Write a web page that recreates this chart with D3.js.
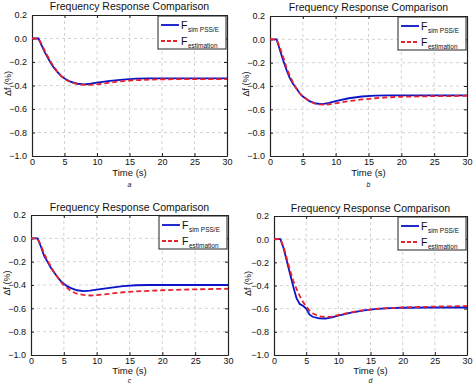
<!DOCTYPE html>
<html><head><meta charset="utf-8">
<script src="https://cdn.jsdelivr.net/npm/d3@7"></script>
<style>
body{margin:0;background:#fff;}
svg{display:block;font-family:"Liberation Sans",Arial,Helvetica,sans-serif;}
</style></head>
<body>
<svg id="c" width="474" height="384"></svg>
<script>
// ---- data ----
const time = [0, 1, 1.5, 2, 2.5, 3, 3.5, 4, 4.5, 5, 5.5, 6, 7, 8, 9, 10, 12, 14, 16, 18, 20, 25, 30];
const xTicks = [0, 5, 10, 15, 20, 25, 30];
const yTicks = [0.2, 0.0, -0.2, -0.4, -0.6, -0.8, -1.0];
const titleText = "Frequency Response Comparison";
const xLabel = "Time (s)";
const yLabel = "Δf (%)";
const captions = ["a", "b", "c", "d"];

const simA = [0,0,-0.06,-0.12,-0.17,-0.22,-0.26,-0.29,-0.32,-0.34,-0.355,-0.37,-0.385,-0.39,-0.385,-0.375,-0.36,-0.35,-0.342,-0.34,-0.34,-0.34,-0.34];
const estA = [0,0,-0.05,-0.11,-0.16,-0.21,-0.25,-0.29,-0.32,-0.345,-0.36,-0.372,-0.388,-0.395,-0.395,-0.39,-0.375,-0.362,-0.355,-0.35,-0.347,-0.345,-0.345];
const simB = [0,0,-0.09,-0.18,-0.26,-0.33,-0.38,-0.42,-0.46,-0.49,-0.51,-0.53,-0.55,-0.555,-0.545,-0.53,-0.505,-0.49,-0.483,-0.48,-0.48,-0.48,-0.48];
const estB = [0,0,-0.07,-0.15,-0.24,-0.31,-0.37,-0.42,-0.46,-0.49,-0.51,-0.53,-0.555,-0.56,-0.558,-0.548,-0.53,-0.515,-0.505,-0.497,-0.492,-0.487,-0.485];
const simC = [0,0,-0.07,-0.15,-0.2,-0.25,-0.29,-0.33,-0.365,-0.39,-0.41,-0.425,-0.445,-0.452,-0.448,-0.44,-0.425,-0.41,-0.402,-0.40,-0.40,-0.40,-0.40];
const estC = [0,0,-0.06,-0.13,-0.19,-0.24,-0.29,-0.33,-0.37,-0.40,-0.425,-0.45,-0.475,-0.485,-0.49,-0.487,-0.475,-0.462,-0.455,-0.45,-0.445,-0.437,-0.432];
const simD = [0,0,-0.08,-0.19,-0.3,-0.41,-0.51,-0.56,-0.575,-0.6,-0.65,-0.67,-0.683,-0.685,-0.675,-0.66,-0.635,-0.615,-0.602,-0.595,-0.592,-0.59,-0.59];
const estD = [0,0,-0.07,-0.17,-0.27,-0.36,-0.43,-0.49,-0.54,-0.58,-0.615,-0.64,-0.665,-0.672,-0.668,-0.655,-0.632,-0.612,-0.602,-0.595,-0.59,-0.582,-0.577];

const simSeries = [simA, simB, simC, simD];
const estSeries = [estA, estB, estC, estD];

// ---- layout ----
const panels = [
  {l:32, r:227, t:15, b:156, titleY:10, xlabY:175.5, capY:187, ylabX:8},
  {l:270, r:467, t:16, b:156, titleY:11, xlabY:175.5, capY:186.5, ylabX:246},
  {l:31, r:228, t:215, b:355, titleY:211, xlabY:374, capY:382.5, ylabX:7},
  {l:274, r:467, t:216, b:355, titleY:212, xlabY:374, capY:382.5, ylabX:248}
];

const svg = d3.select("#c");
const blue = "#0a14c8", red = "#e8202a";

panels.forEach((p, i) => {
  const x = d3.scaleLinear().domain([0, 30]).range([p.l, p.r]);
  const y = d3.scaleLinear().domain([-1.0, 0.2]).range([p.b, p.t]);
  const g = svg.append("g");

  // grid
  g.append("g").selectAll("line").data(xTicks.slice(1, -1)).join("line")
    .attr("x1", d => x(d)).attr("x2", d => x(d)).attr("y1", p.t).attr("y2", p.b)
    .attr("stroke", "#c8c8c8").attr("stroke-width", 0.8).attr("stroke-dasharray", "3,3");
  g.append("g").selectAll("line").data(yTicks.slice(1, -1)).join("line")
    .attr("y1", d => y(d)).attr("y2", d => y(d)).attr("x1", p.l).attr("x2", p.r)
    .attr("stroke", "#c8c8c8").attr("stroke-width", 0.8).attr("stroke-dasharray", "3,3");

  // axes with inward ticks
  const fmt = d3.format(".1f");
  const ax = g.append("g").attr("transform", `translate(0,${p.b})`)
    .call(d3.axisBottom(x).tickValues(xTicks).tickSizeInner(-3).tickSizeOuter(0).tickPadding(5).tickFormat(d3.format("d")));
  const ax2 = g.append("g").attr("transform", `translate(0,${p.t})`)
    .call(d3.axisTop(x).tickValues(xTicks).tickSizeInner(-3).tickSizeOuter(0).tickFormat(""));
  const ay = g.append("g").attr("transform", `translate(${p.l},0)`)
    .call(d3.axisLeft(y).tickValues(yTicks).tickSizeInner(-3).tickSizeOuter(0).tickPadding(5).tickFormat(d => fmt(d)));
  const ay2 = g.append("g").attr("transform", `translate(${p.r},0)`)
    .call(d3.axisRight(y).tickValues(yTicks).tickSizeInner(-3).tickSizeOuter(0).tickFormat(""));
  [ax, ax2, ay, ay2].forEach(a => {
    a.select(".domain").attr("stroke", "#222").attr("stroke-width", 1.2);
    a.selectAll(".tick line").attr("stroke", "#222");
    a.selectAll("text").attr("font-size", 9).attr("fill", "#111").attr("font-family", "Liberation Sans, Arial, sans-serif");
  });
  ax.selectAll("text").attr("y", 8.5).attr("dy", 0);

  // lines
  const line = d3.line().x((d, k) => x(time[k])).y(d => y(d));
  g.append("path").datum(simSeries[i]).attr("d", line)
    .attr("fill", "none").attr("stroke", blue).attr("stroke-width", 1.8);
  g.append("path").datum(estSeries[i]).attr("d", line)
    .attr("fill", "none").attr("stroke", red).attr("stroke-width", 1.8).attr("stroke-dasharray", "5,3");

  // title
  g.append("text").attr("x", (p.l + p.r) / 2).attr("y", p.titleY).attr("text-anchor", "middle")
    .attr("font-size", 10.5).attr("fill", "#111").text(titleText);
  // x label
  g.append("text").attr("x", (p.l + p.r) / 2).attr("y", p.xlabY).attr("text-anchor", "middle")
    .attr("font-size", 9.5).attr("fill", "#111").text(xLabel);
  // caption
  g.append("text").attr("x", (p.l + p.r) / 2).attr("y", p.capY).attr("text-anchor", "middle")
    .attr("font-size", 7).attr("font-style", "italic").attr("fill", "#111").text(captions[i]);
  // y label
  g.append("text").attr("transform", `translate(${p.ylabX},${(p.t + p.b) / 2 - 2}) rotate(-90)`)
    .attr("text-anchor", "middle").attr("dy", "0.35em")
    .attr("font-size", 9).attr("fill", "#111").text(yLabel);

  // legend
  const lw = 68, lh = 33;
  const lx = p.r - lw - 1, ly = p.t + 1;
  const lg = g.append("g").attr("transform", `translate(${lx},${ly})`);
  lg.append("rect").attr("width", lw).attr("height", lh).attr("fill", "#fff").attr("stroke", "#222").attr("stroke-width", 1);
  const items = [{c: blue, dash: null, sub: "sim PSS/E", yy: 9}, {c: red, dash: "4,2", sub: "estimation", yy: 25}];
  items.forEach(it => {
    lg.append("line").attr("x1", 3).attr("x2", 21).attr("y1", it.yy).attr("y2", it.yy)
      .attr("stroke", it.c).attr("stroke-width", 1.8).attr("stroke-dasharray", it.dash);
    const t = lg.append("text").attr("x", 23).attr("y", it.yy + 3.5).attr("font-size", 10.5).attr("fill", "#111");
    t.append("tspan").text("F");
    t.append("tspan").attr("font-size", 6.5).attr("dy", 3).attr("dx", 0.5).text(it.sub);
  });
});
</script>
</body></html>
